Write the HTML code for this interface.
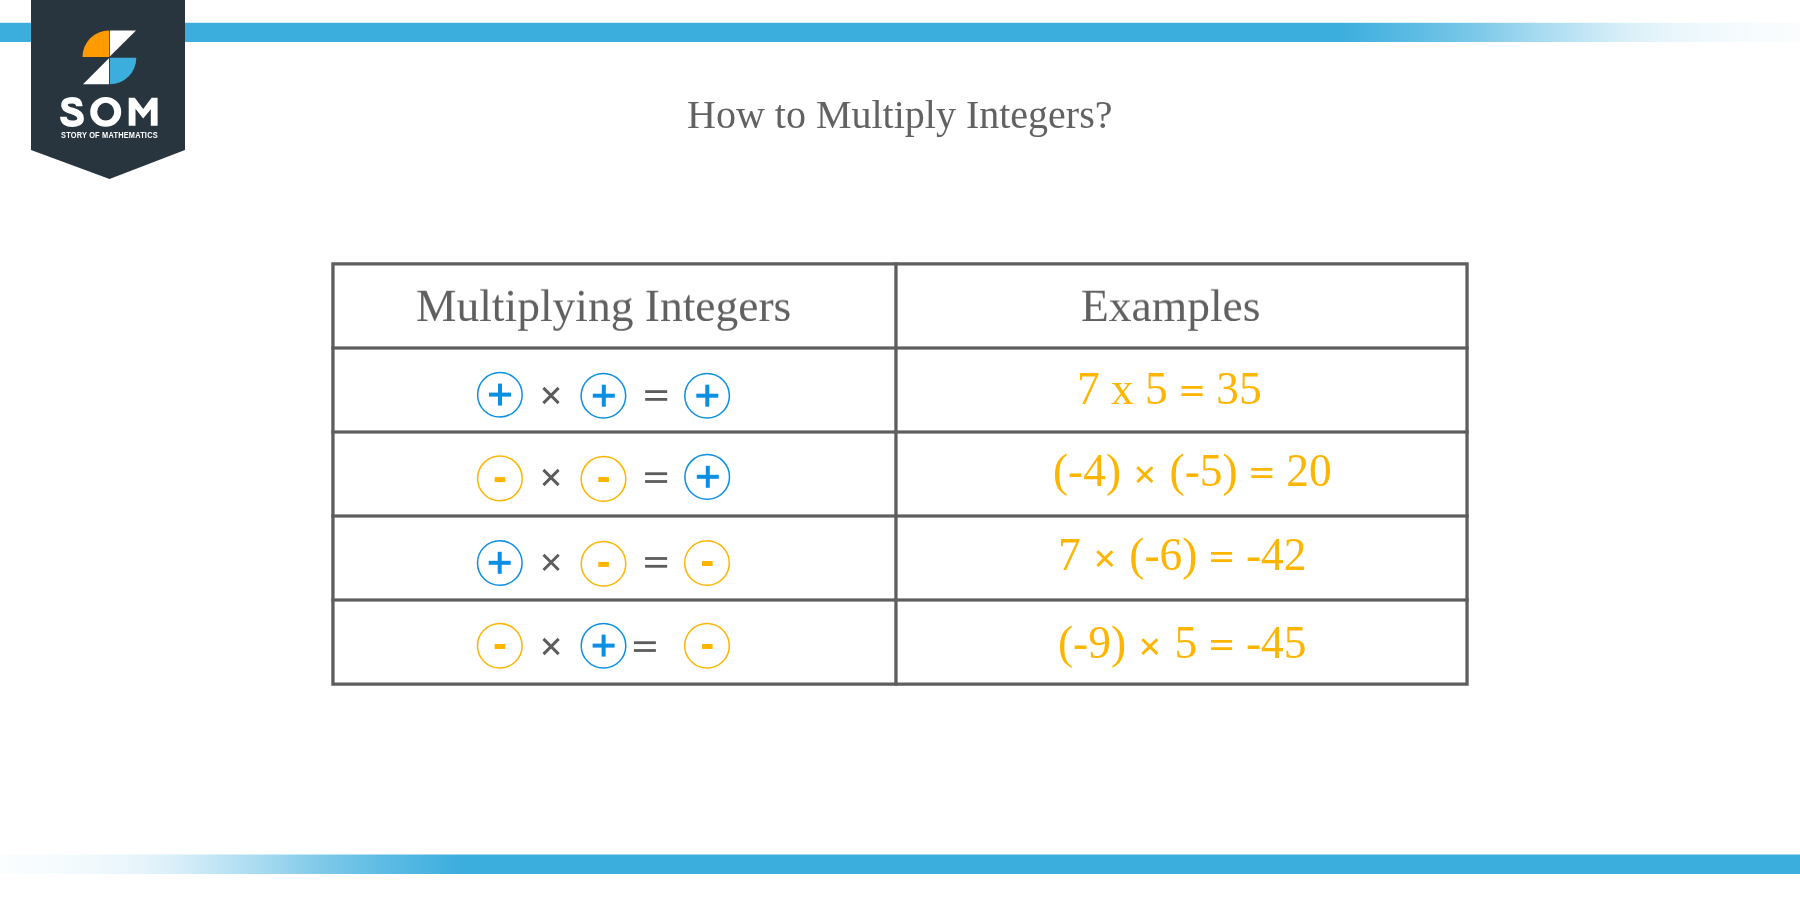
<!DOCTYPE html>
<html>
<head>
<meta charset="utf-8">
<title>How to Multiply Integers?</title>
<style>
html,body{margin:0;padding:0;background:#fff;}
body{width:1800px;height:900px;position:relative;overflow:hidden;font-family:"Liberation Serif",serif;}
.t{position:absolute;white-space:nowrap;line-height:1;will-change:transform;}
.s{font-family:"Liberation Sans",sans-serif;font-weight:bold;color:#fff;}
.ex{font-size:45.4px;color:#fdb500;}
.ex b{font-weight:bold;display:inline-block;}
.ex .x{transform:translateY(3px) scale(0.9);}
.ex .e{transform:translateY(2.4px) scaleY(0.84);}
#g{position:absolute;left:0;top:0;}
</style>
</head>
<body>
<svg id="g" width="1800" height="900" viewBox="0 0 1800 900">
  <defs>
    <linearGradient id="gt" x1="1340" y1="0" x2="1800" y2="0" gradientUnits="userSpaceOnUse">
      <stop offset="0.000" stop-color="#3caede" stop-opacity="1.0"/>
      <stop offset="0.174" stop-color="#3caede" stop-opacity="0.82"/>
      <stop offset="0.304" stop-color="#3caede" stop-opacity="0.66"/>
      <stop offset="0.413" stop-color="#3caede" stop-opacity="0.48"/>
      <stop offset="0.500" stop-color="#3caede" stop-opacity="0.36"/>
      <stop offset="0.609" stop-color="#3caede" stop-opacity="0.21"/>
      <stop offset="0.696" stop-color="#3caede" stop-opacity="0.13"/>
      <stop offset="0.783" stop-color="#3caede" stop-opacity="0.08"/>
      <stop offset="0.913" stop-color="#3caede" stop-opacity="0.04"/>
      <stop offset="1.000" stop-color="#3caede" stop-opacity="0.02"/>
    </linearGradient>
    <linearGradient id="gb" x1="460" y1="0" x2="0" y2="0" gradientUnits="userSpaceOnUse">
      <stop offset="0.000" stop-color="#3caede" stop-opacity="1.0"/>
      <stop offset="0.174" stop-color="#3caede" stop-opacity="0.82"/>
      <stop offset="0.304" stop-color="#3caede" stop-opacity="0.66"/>
      <stop offset="0.413" stop-color="#3caede" stop-opacity="0.48"/>
      <stop offset="0.500" stop-color="#3caede" stop-opacity="0.36"/>
      <stop offset="0.609" stop-color="#3caede" stop-opacity="0.21"/>
      <stop offset="0.696" stop-color="#3caede" stop-opacity="0.13"/>
      <stop offset="0.783" stop-color="#3caede" stop-opacity="0.08"/>
      <stop offset="0.913" stop-color="#3caede" stop-opacity="0.04"/>
      <stop offset="1.000" stop-color="#3caede" stop-opacity="0.02"/>
    </linearGradient>
  </defs>
  <rect x="0" y="22.8" width="1800" height="19.2" fill="url(#gt)"/>
  <rect x="0" y="854.5" width="1800" height="19.5" fill="url(#gb)"/>
  <polygon points="31,0 185,0 185,150 109.5,179 31,150" fill="#28353f"/>
  <path d="M109,30.5 A26.5,26.5 0 0 0 82.5,57 L109,57 Z" fill="#ff9a00"/>
  <path d="M109.8,30.5 L136,30.5 L109.8,56.5 Z" fill="#fff"/>
  <path d="M109.8,57.8 L136.3,57.8 A26.5,26.5 0 0 1 109.8,84.3 Z" fill="#3caede"/>
  <path d="M109,58.3 L109,84.3 L83,84.3 Z" fill="#fff"/>
  <path d="M332.95,263.95 H1467.05 V684.05 H332.95 Z" fill="none" stroke="#5e5e5e" stroke-width="3.3" stroke-linejoin="miter"/>
  <g fill="#5e5e5e">
    <rect x="894.3" y="262.3" width="3.3" height="423.4"/>
    <rect x="331.3" y="346.4" width="1137.4" height="3.2"/>
    <rect x="331.3" y="430.4" width="1137.4" height="3.2"/>
    <rect x="331.3" y="514.4" width="1137.4" height="3.2"/>
    <rect x="331.3" y="598.4" width="1137.4" height="3.2"/>
  </g>
  <circle cx="499.9" cy="394.7" r="22.3" fill="none" stroke="#0b8fe2" stroke-width="1.5"/>
  <rect x="489.0" y="392.6" width="22" height="4" fill="#0b8fe2"/>
  <rect x="498.0" y="383.6" width="4" height="22" fill="#0b8fe2"/>
  <circle cx="603.4" cy="395.8" r="22.3" fill="none" stroke="#0b8fe2" stroke-width="1.5"/>
  <rect x="592.8" y="393.7" width="22" height="4" fill="#0b8fe2"/>
  <rect x="601.8" y="384.7" width="4" height="22" fill="#0b8fe2"/>
  <circle cx="707.1" cy="395.8" r="22.3" fill="none" stroke="#0b8fe2" stroke-width="1.5"/>
  <rect x="696.3" y="393.7" width="22" height="4" fill="#0b8fe2"/>
  <rect x="705.3" y="384.7" width="4" height="22" fill="#0b8fe2"/>
  <circle cx="499.9" cy="478.4" r="22.3" fill="none" stroke="#fdb500" stroke-width="1.5"/>
  <rect x="494.7" y="477.1" width="10.6" height="5" fill="#fdb500"/>
  <circle cx="603.5" cy="478.9" r="22.3" fill="none" stroke="#fdb500" stroke-width="1.5"/>
  <rect x="598.3" y="477.0" width="10.6" height="5" fill="#fdb500"/>
  <circle cx="707.2" cy="476.9" r="22.3" fill="none" stroke="#0b8fe2" stroke-width="1.5"/>
  <rect x="696.8" y="474.8" width="22" height="4" fill="#0b8fe2"/>
  <rect x="705.8" y="465.8" width="4" height="22" fill="#0b8fe2"/>
  <circle cx="499.8" cy="563.0" r="22.3" fill="none" stroke="#0b8fe2" stroke-width="1.5"/>
  <rect x="488.7" y="560.8" width="22" height="4" fill="#0b8fe2"/>
  <rect x="497.7" y="551.8" width="4" height="22" fill="#0b8fe2"/>
  <circle cx="603.5" cy="563.7" r="22.3" fill="none" stroke="#fdb500" stroke-width="1.5"/>
  <rect x="598.3" y="561.9" width="10.6" height="5" fill="#fdb500"/>
  <circle cx="707.0" cy="563.0" r="22.3" fill="none" stroke="#fdb500" stroke-width="1.5"/>
  <rect x="702.0" y="561.0" width="10.6" height="5" fill="#fdb500"/>
  <circle cx="499.8" cy="645.7" r="22.3" fill="none" stroke="#fdb500" stroke-width="1.5"/>
  <rect x="494.7" y="644.0" width="10.6" height="5" fill="#fdb500"/>
  <circle cx="603.5" cy="645.7" r="22.3" fill="none" stroke="#0b8fe2" stroke-width="1.5"/>
  <rect x="592.6" y="643.6" width="22" height="4" fill="#0b8fe2"/>
  <rect x="601.6" y="634.6" width="4" height="22" fill="#0b8fe2"/>
  <circle cx="707.0" cy="645.7" r="22.3" fill="none" stroke="#fdb500" stroke-width="1.5"/>
  <rect x="702.0" y="644.0" width="10.6" height="5" fill="#fdb500"/>
  <path d="M543.4,387.9 L558.6,403.1 M558.6,387.9 L543.4,403.1" stroke="#5c5c5c" stroke-width="2.9" fill="none"/>
  <path d="M543.4,469.9 L558.6,485.1 M558.6,469.9 L543.4,485.1" stroke="#5c5c5c" stroke-width="2.9" fill="none"/>
  <path d="M543.5,554.8 L558.7,570.0 M558.7,554.8 L543.5,570.0" stroke="#5c5c5c" stroke-width="2.9" fill="none"/>
  <path d="M543.5,638.9 L558.7,654.1 M558.7,638.9 L543.5,654.1" stroke="#5c5c5c" stroke-width="2.9" fill="none"/>
  <rect x="645.2" y="390.2" width="22" height="2.8" fill="#5c5c5c"/>
  <rect x="645.2" y="398.0" width="22" height="2.8" fill="#5c5c5c"/>
  <rect x="645.1" y="472.3" width="22" height="2.8" fill="#5c5c5c"/>
  <rect x="645.1" y="480.1" width="22" height="2.8" fill="#5c5c5c"/>
  <rect x="645.1" y="557.1" width="22" height="2.8" fill="#5c5c5c"/>
  <rect x="645.1" y="564.9" width="22" height="2.8" fill="#5c5c5c"/>
  <rect x="633.9" y="641.3" width="22" height="2.8" fill="#5c5c5c"/>
  <rect x="633.9" y="649.1" width="22" height="2.8" fill="#5c5c5c"/>
</svg>
<svg style="position:absolute;left:0;top:0" width="200" height="200" viewBox="0 0 200 200">
  <path d="M79.3,106.2 C79.3,101.8 76.3,100.2 72.2,100.2 C67.8,100.2 64.5,101.8 64.5,104.9 C64.5,108.6 68.2,109.8 72.4,111 C77.2,112.4 80.6,114 80.6,118.4 C80.6,121.9 77.2,123.7 72.2,123.7 C66.9,123.7 63.4,121.5 63.4,116.7" fill="none" stroke="#fff" stroke-width="6.6"/>
  <path fill-rule="evenodd" fill="#fff" d="M90.2,111.9 A15.5,14.9 0 1 0 121.2,111.9 A15.5,14.9 0 1 0 90.2,111.9 Z M97.2,111.7 A8.5,8.9 0 1 0 114.2,111.7 A8.5,8.9 0 1 0 97.2,111.7 Z"/>
  <polygon fill="#fff" points="128.7,125.8 128.7,97.8 134.8,97.8 143.2,109 151.6,97.8 157.6,97.8 157.6,125.8 150.8,125.8 150.8,109.2 143.2,118.4 135.5,108.8 135.5,125.8"/>
</svg>
<div class="t s" style="left:61.4px;top:131.4px;font-size:7.4px;letter-spacing:0.2px;transform:scaleY(1.1);transform-origin:0 0;">STORY OF MATHEMATICS</div>

<div class="t" style="left:687.3px;top:95px;font-size:40px;color:#626262">How to Multiply Integers?</div>
<div class="t" style="left:416px;top:282.7px;font-size:45.5px;color:#606060;transform:scaleY(0.977);transform-origin:0 38.5px">Multiplying Integers</div>
<div class="t" style="left:1081px;top:282.7px;font-size:45.5px;color:#606060;transform:scaleY(0.977);transform-origin:0 38.5px">Examples</div>

<div class="t ex" style="left:1077.3px;top:366.5px;">7 x 5 <b class="e">=</b> 35</div>
<div class="t ex" style="left:1053.3px;top:449px;">(-4) <b class="x">×</b> (-5) <b class="e">=</b> 20</div>
<div class="t ex" style="left:1058px;top:532.5px;">7 <b class="x">×</b> (-6) <b class="e">=</b> -42</div>
<div class="t ex" style="left:1058px;top:620.8px;">(-9) <b class="x">×</b> 5 <b class="e">=</b> -45</div>
</body>
</html>
